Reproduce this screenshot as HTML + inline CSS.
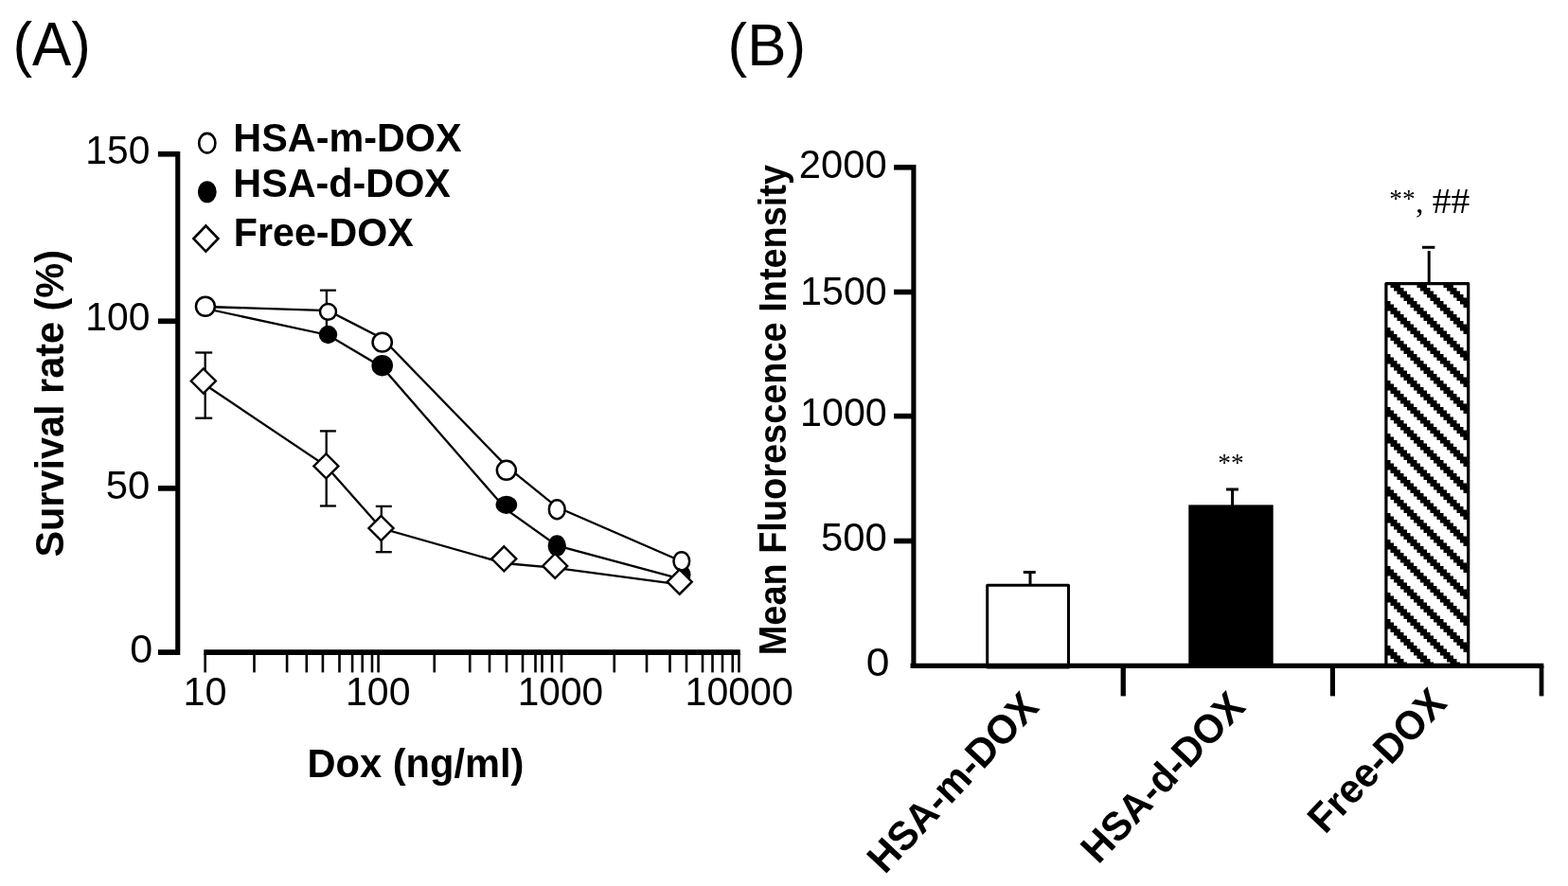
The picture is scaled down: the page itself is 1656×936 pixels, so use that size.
<!DOCTYPE html>
<html lang="en"><head><meta charset="utf-8"><title>Figure</title>
<style>html,body{margin:0;padding:0;background:#fff;}svg{display:block;}text{font-family:"Liberation Sans",sans-serif;fill:#000;}.b{font-weight:bold;}.s{font-family:"Liberation Serif",serif;}</style></head><body>
<svg width="1656" height="936" viewBox="0 0 1656 936">
<rect width="1656" height="936" fill="#fff"/>
<defs><pattern id="hatch" patternUnits="userSpaceOnUse" x="1472" y="304" width="28" height="28">
<rect width="28" height="28" fill="#fff"/>
<path fill="#000" d="M-21 -3.5 L-21 0 L-17.5 0 L-17.5 3.5 L-14 3.5 L-14 7 L-10.5 7 L-10.5 10.5 L-7 10.5 L-7 14 L-3.5 14 L-3.5 17.5 L0 17.5 L0 21 L3.5 21 L3.5 24.5 L7 24.5 L7 28 L10.5 28 L10.5 31.5 L0 31.5 L0 28 L-3.5 28 L-3.5 24.5 L-7 24.5 L-7 21 L-10.5 21 L-10.5 17.5 L-14 17.5 L-14 14 L-17.5 14 L-17.5 10.5 L-21 10.5 L-21 7 L-24.5 7 L-24.5 3.5 L-28 3.5 L-28 0 L-31.5 0 L-31.5 -3.5Z M7 -3.5 L7 0 L10.5 0 L10.5 3.5 L14 3.5 L14 7 L17.5 7 L17.5 10.5 L21 10.5 L21 14 L24.5 14 L24.5 17.5 L28 17.5 L28 21 L31.5 21 L31.5 24.5 L35 24.5 L35 28 L38.5 28 L38.5 31.5 L28 31.5 L28 28 L24.5 28 L24.5 24.5 L21 24.5 L21 21 L17.5 21 L17.5 17.5 L14 17.5 L14 14 L10.5 14 L10.5 10.5 L7 10.5 L7 7 L3.5 7 L3.5 3.5 L0 3.5 L0 0 L-3.5 0 L-3.5 -3.5Z M35 -3.5 L35 0 L38.5 0 L38.5 3.5 L42 3.5 L42 7 L45.5 7 L45.5 10.5 L49 10.5 L49 14 L52.5 14 L52.5 17.5 L56 17.5 L56 21 L59.5 21 L59.5 24.5 L63 24.5 L63 28 L66.5 28 L66.5 31.5 L56 31.5 L56 28 L52.5 28 L52.5 24.5 L49 24.5 L49 21 L45.5 21 L45.5 17.5 L42 17.5 L42 14 L38.5 14 L38.5 10.5 L35 10.5 L35 7 L31.5 7 L31.5 3.5 L28 3.5 L28 0 L24.5 0 L24.5 -3.5Z"/>
</pattern></defs>
<text transform="translate(13.41 69.3) scale(0.9659 1)" font-size="64.1">(A)</text>
<g stroke="#000" stroke-width="5.5" fill="none">
<line x1="187.75" y1="159.9" x2="187.75" y2="692" stroke-width="5.1"/>
<line x1="166.9" y1="162.75" x2="188" y2="162.75" stroke-width="5.7"/>
<line x1="166.9" y1="339.3" x2="188" y2="339.3" stroke-width="5.7"/>
<line x1="166.9" y1="515.9" x2="188" y2="515.9" stroke-width="5.7"/>
<line x1="166.9" y1="689.1" x2="188" y2="689.1" stroke-width="5.7"/>
<line x1="215.3" y1="689.2" x2="781.75" y2="689.2" stroke-width="5.8"/>
</g>
<g stroke="#000" stroke-width="2.6">
<line x1="216.7" y1="690" x2="216.7" y2="710.4"/>
<line x1="268.5" y1="690" x2="268.5" y2="710.4"/>
<line x1="303.1" y1="690" x2="303.1" y2="710.4"/>
<line x1="323.8" y1="690" x2="323.8" y2="710.4"/>
<line x1="340.9" y1="690" x2="340.9" y2="710.4"/>
<line x1="358.5" y1="690" x2="358.5" y2="710.4"/>
<line x1="372.1" y1="690" x2="372.1" y2="710.4"/>
<line x1="382.7" y1="690" x2="382.7" y2="710.4"/>
<line x1="393.0" y1="690" x2="393.0" y2="710.4"/>
<line x1="399.6" y1="690" x2="399.6" y2="710.4"/>
<line x1="458.75" y1="690" x2="458.75" y2="710.4"/>
<line x1="496.25" y1="690" x2="496.25" y2="710.4"/>
<line x1="517" y1="690" x2="517" y2="710.4"/>
<line x1="535" y1="690" x2="535" y2="710.4"/>
<line x1="552" y1="690" x2="552" y2="710.4"/>
<line x1="565.5" y1="690" x2="565.5" y2="710.4"/>
<line x1="572.5" y1="690" x2="572.5" y2="710.4"/>
<line x1="583" y1="690" x2="583" y2="710.4"/>
<line x1="593" y1="690" x2="593" y2="710.4"/>
<line x1="648.75" y1="690" x2="648.75" y2="710.4"/>
<line x1="683" y1="690" x2="683" y2="710.4"/>
<line x1="707.5" y1="690" x2="707.5" y2="710.4"/>
<line x1="725" y1="690" x2="725" y2="710.4"/>
<line x1="742" y1="690" x2="742" y2="710.4"/>
<line x1="752.5" y1="690" x2="752.5" y2="710.4"/>
<line x1="763" y1="690" x2="763" y2="710.4"/>
<line x1="773.75" y1="690" x2="773.75" y2="710.4"/>
<line x1="780.4" y1="690" x2="780.4" y2="710.4"/>
</g>
<text transform="translate(90.29 173.2) scale(0.9684 1)" font-size="42.15">150</text>
<text transform="translate(90.29 349.3) scale(0.965 1)" font-size="42.3">100</text>
<text transform="translate(111.82 526.6) scale(0.9942 1)" font-size="42.15">50</text>
<text transform="translate(137.22 700.3) scale(1.0223 1)" font-size="42.15">0</text>
<text transform="translate(193.54 744.5) scale(0.9861 1)" font-size="42.01">10</text>
<text transform="translate(364.97 744.5) scale(0.9778 1)" font-size="42.01">100</text>
<text transform="translate(546.81 744.5) scale(0.9649 1)" font-size="42.01">1000</text>
<text transform="translate(723.57 744.5) scale(0.9779 1)" font-size="42.01">10000</text>
<text class="b" transform="translate(324.52 821.0) scale(0.9705 1)" font-size="42.88">Dox (ng/ml)</text>
<text class="b" transform="translate(67.00 588.59) rotate(-90) scale(0.9594 1)" font-size="43.17">Survival rate (%)</text>
<ellipse cx="218.8" cy="151.2" rx="8.6" ry="10.3" fill="#fff" stroke="#000" stroke-width="2.6"/>
<ellipse cx="218.8" cy="202.75" rx="9.9" ry="11.6" fill="#000"/>
<path d="M217.4 238.5 L230.4 252.1 L217.4 265.7 L204.4 252.1 Z" fill="#fff" stroke="#000" stroke-width="2.6"/>
<text class="b" transform="translate(246.33 159.75) scale(0.9535 1)" font-size="43.39">HSA-m-DOX</text>
<text class="b" transform="translate(246.33 208.2) scale(0.9543 1)" font-size="43.31">HSA-d-DOX</text>
<text class="b" transform="translate(246.85 259.9) scale(0.9506 1)" font-size="43.31">Free-DOX</text>
<g stroke="#000" stroke-width="2.3" fill="none">
<line x1="344.9" y1="306.7" x2="344.9" y2="350"/>
<line x1="337.9" y1="306.7" x2="354.9" y2="306.7"/>
<line x1="216.7" y1="372.5" x2="216.7" y2="441.7"/>
<line x1="206.3" y1="372.5" x2="224.2" y2="372.5"/>
<line x1="206.3" y1="441.7" x2="224.2" y2="441.7"/>
<line x1="344.7" y1="455.4" x2="344.7" y2="534.5"/>
<line x1="337.9" y1="455.4" x2="354.9" y2="455.4"/>
<line x1="337.9" y1="534.5" x2="354.9" y2="534.5"/>
<line x1="402.8" y1="534.9" x2="402.8" y2="583.2"/>
<line x1="396.8" y1="534.9" x2="413.8" y2="534.9"/>
<line x1="396.8" y1="583.2" x2="413.8" y2="583.2"/>
<polyline points="217,326 346.5,354 403.7,388 534.9,538.5 588.25,576.4 719.8,611.9"/>
<polyline points="216.9,324 346.5,328.2 403.7,357.5 534.9,492.6 588.25,535.8 719.8,593"/>
<polyline points="216.7,406.5 344.4,492.4 402.5,558 532.4,595 586.2,599.8 717.6,617.3"/>
</g>
<ellipse cx="346.5" cy="353.5" rx="9.7" ry="9.7" fill="#000"/>
<ellipse cx="403.7" cy="386.2" rx="11.3" ry="11.2" fill="#000"/>
<ellipse cx="534.85" cy="533.3" rx="11.3" ry="9.65" fill="#000"/>
<ellipse cx="588.25" cy="576.6" rx="9.65" ry="11.25" fill="#000"/>
<ellipse cx="722.6" cy="607.2" rx="6.9" ry="9" fill="#000"/>
<ellipse cx="216.9" cy="323.75" rx="9.95" ry="9.95" fill="#fff" stroke="#000" stroke-width="2.5"/>
<ellipse cx="346.5" cy="329.4" rx="8.45" ry="8.45" fill="#fff" stroke="#000" stroke-width="2.5"/>
<ellipse cx="403.7" cy="361.6" rx="10.15" ry="9.9" fill="#fff" stroke="#000" stroke-width="2.5"/>
<ellipse cx="534.85" cy="496.8" rx="10" ry="9.95" fill="#fff" stroke="#000" stroke-width="2.5"/>
<ellipse cx="588.25" cy="538.2" rx="8.4" ry="10" fill="#fff" stroke="#000" stroke-width="2.5"/>
<ellipse cx="719.8" cy="592.8" rx="8.35" ry="9.6" fill="#fff" stroke="#000" stroke-width="2.5"/>
<path d="M214.85 389.5 L227.85 402.5 L214.85 415.5 L201.85 402.5 Z" fill="#fff" stroke="#000" stroke-width="2.4"/>
<path d="M344.4 479.4 L357.4 492.4 L344.4 505.4 L331.4 492.4 Z" fill="#fff" stroke="#000" stroke-width="2.4"/>
<path d="M402.5 545.0 L415.5 558 L402.5 571.0 L389.5 558 Z" fill="#fff" stroke="#000" stroke-width="2.4"/>
<path d="M532.3 577.3 L545.3 590.3 L532.3 603.3 L519.3 590.3 Z" fill="#fff" stroke="#000" stroke-width="2.4"/>
<path d="M586.2 584.9 L599.2 597.9 L586.2 610.9 L573.2 597.9 Z" fill="#fff" stroke="#000" stroke-width="2.4"/>
<path d="M717.7 601.7 L730.7 614.7 L717.7 627.7 L704.7 614.7 Z" fill="#fff" stroke="#000" stroke-width="2.4"/>
<text transform="translate(768.56 69.3) scale(0.9696 1)" font-size="63.81">(B)</text>
<rect x="1042.7" y="618.3" width="85.8" height="86.6" fill="#fff" stroke="#000" stroke-width="3" stroke-linejoin="round"/>
<rect x="1255.3" y="533.4" width="89.4" height="171" fill="#000"/>
<rect x="1463.9" y="299.6" width="86.8" height="404" fill="url(#hatch)" stroke="#000" stroke-width="3.2" stroke-linejoin="round"/>
<g stroke="#000" stroke-width="3" fill="none">
<line x1="1088" y1="604.5" x2="1088" y2="618"/><line x1="1080.75" y1="604.5" x2="1093.75" y2="604.5"/>
<line x1="1301.6" y1="517" x2="1301.6" y2="534"/><line x1="1295" y1="517" x2="1308" y2="517"/>
<line x1="1509.2" y1="265" x2="1509.2" y2="299"/><line x1="1502" y1="261.3" x2="1515.4" y2="261.3"/>
</g>
<g stroke="#000" stroke-width="5.5" fill="none">
<line x1="964.9" y1="173.9" x2="964.9" y2="705.8" stroke-width="5.1"/>
<line x1="944.1" y1="176.8" x2="965" y2="176.8" stroke-width="5.6"/>
<line x1="944.1" y1="308.5" x2="965" y2="308.5" stroke-width="5.6"/>
<line x1="944.1" y1="439.6" x2="965" y2="439.6" stroke-width="5.6"/>
<line x1="944.1" y1="571.5" x2="965" y2="571.5" stroke-width="5.6"/>
<line x1="961.5" y1="703.3" x2="1630.3" y2="703.3" stroke-width="5.2"/>
<line x1="1186.25" y1="703" x2="1186.25" y2="735.4" stroke-width="5.3"/>
<line x1="1407.4" y1="703" x2="1407.4" y2="735.4" stroke-width="5.1"/>
<line x1="1628" y1="703" x2="1628" y2="735.4" stroke-width="4.7"/>
</g>
<text transform="translate(843.8 187.5) scale(0.995 1)" font-size="42.01">2000</text>
<text transform="translate(845.06 322.2) scale(0.9779 1)" font-size="42.15">1500</text>
<text transform="translate(845.06 450.1) scale(0.9813 1)" font-size="42.01">1000</text>
<text transform="translate(866.92 582.0) scale(0.9968 1)" font-size="42.01">500</text>
<text transform="translate(914.67 714.1) scale(1.0521 1)" font-size="42.15">0</text>
<text class="b" transform="translate(830.10 692.24) rotate(-90) scale(0.9352 1)" font-size="40.55">Mean Fluorescence Intensity</text>
<text class="b" transform="translate(934.51 924.52) rotate(-46.9) scale(0.9632 1)" font-size="42.88">HSA-m-DOX</text>
<text class="b" transform="translate(1160.11 913.89) rotate(-46.5) scale(0.9572 1)" font-size="42.88">HSA-d-DOX</text>
<text class="b" transform="translate(1399.61 882.30) rotate(-46.6) scale(0.9582 1)" font-size="42.88">Free-DOX</text>
<text class="s" x="1286.3" y="498.3" font-size="27.3">**</text>
<text class="s"><tspan x="1467.3" y="218.5" font-size="27.3">**</tspan><tspan x="1495" y="225.4" font-size="34">, </tspan><tspan x="1512.8" y="225.2" font-size="38" textLength="39.6" lengthAdjust="spacingAndGlyphs">##</tspan></text>
</svg></body></html>
